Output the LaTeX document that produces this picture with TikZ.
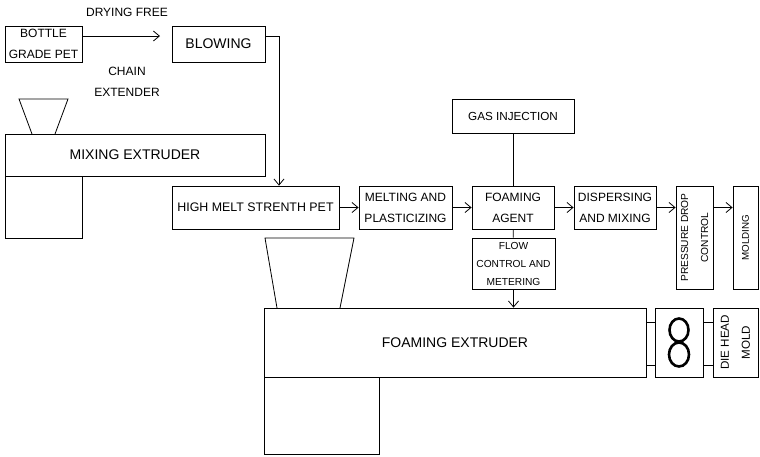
\documentclass[tikz,border=0pt]{standalone}
\usepackage{fontspec}
\setmainfont{Liberation Sans}
\usetikzlibrary{arrows.meta}

\begin{document}
\begin{tikzpicture}[
  x=1pt, y=-1pt, line width=.8pt,
  font=\fontsize{12}{21}\selectfont, >={Straight Barb[length=6pt,width=10pt]},
  bx/.style={draw, align=center, inner sep=0pt},
  big/.style={font=\fontsize{14}{21}\selectfont},
  sml/.style={font=\fontsize{10.2}{18}\selectfont},
  lbl/.style={align=center, inner sep=0pt},
  arr/.style={->},
  scr/.style={line width=2.6pt}
]
\useasboundingbox (0,0) rectangle (760,456);
% ---------------- top row: raw material
\node[bx, minimum width=77pt, minimum height=36pt] (bot) at (43.5,44) {BOTTLE\\GRADE PET};
\node[bx, big, minimum width=93pt, minimum height=36pt] (blow) at (218.5,44) {BLOWING};
\node[lbl] (dry) at (127,12) {DRYING FREE};
\node[lbl] (chain) at (127,81.5) {CHAIN\\EXTENDER};
\coordinate (dryend) at (160,36);
% ---------------- mixing extruder
\node[bx, big, minimum width=260pt, minimum height=42pt] (mix) at (135,155) {MIXING EXTRUDER};
\node[bx, minimum width=77pt, minimum height=62pt] (mixbase) at (43.5,207) {};
\draw (32,134) -- (19,99) -- (68,99) -- (55,134);
% ---------------- main process row
\node[bx, font=\fontsize{12.4}{21}\selectfont, minimum width=167pt, minimum height=43pt] (hms) at (255.5,207.5) {HIGH MELT STRENTH PET};
\node[bx, minimum width=93pt, minimum height=43pt] (melt) at (405.5,207.5) {MELTING AND\\PLASTICIZING};
\node[bx, minimum width=82pt, minimum height=43pt] (foam) at (513,207.5) {FOAMING\\AGENT};
\node[bx, minimum width=82pt, minimum height=43pt] (disp) at (615,207.5) {DISPERSING\\AND MIXING};
\node[bx, sml, font=\fontsize{10.2}{20}\selectfont, rotate=90, minimum width=103pt, minimum height=37pt] (pdc) at (694.5,237.5) {PRESSURE DROP\\CONTROL};
\node[bx, font=\fontsize{9.8}{20}\selectfont, rotate=90, minimum width=103pt, minimum height=25pt] (mold) at (745.5,237.5) {MOLDING};
% ---------------- gas feed
\node[bx, font=\fontsize{11.7}{21}\selectfont, minimum width=122pt, minimum height=34pt] (gas) at (513,116) {GAS INJECTION};
\node[bx, sml, minimum width=83pt, minimum height=51pt] (flow) at (513.5,263.5) {FLOW\\CONTROL AND\\METERING};
% ---------------- foaming extruder
\node[bx, big, minimum width=382pt, minimum height=69pt] (fex) at (455,342.5) {FOAMING EXTRUDER};
\node[bx, minimum width=115pt, minimum height=77pt] (fexbase) at (321.5,415.5) {};
\draw (277,308) -- (265,238) -- (354,238) -- (340,308);
\node[bx, minimum width=48pt, minimum height=69pt] (screw) at (679,342.5) {};
\draw[scr] ([yshift=12.5pt]screw.center) ellipse [x radius=9.5pt, y radius=11.5pt];
\draw[scr] ([yshift=-12pt]screw.center) ellipse [x radius=10pt, y radius=12pt];
\node[bx, font=\fontsize{11.6}{21}\selectfont, rotate=90, minimum width=69pt, minimum height=45pt] (die) at (735.5,342.5) {DIE HEAD\\MOLD};
% ---------------- edges
\draw[arr] ([yshift=8pt]bot.east) -- (dryend);
\draw[arr] ([yshift=8pt]blow.east) -| ([xshift=23.5pt]hms.north);
\draw[arr] (hms) -- (melt);
\draw[arr] (melt) -- (foam);
\draw[arr] (foam) -- (disp);
\draw[arr] (disp) -- (disp -| pdc.north);
\draw[arr] (pdc.south |- disp) -- (mold.north |- disp);
\draw (gas) -- (foam);
\draw (foam) -- (flow);
\draw[arr] (flow) -- (flow |- fex.north);
\draw ([yshift=20.5pt]fex.east) -- ([yshift=20.5pt]fex.east -| screw.west);
\draw ([yshift=-22.5pt]fex.east) -- ([yshift=-22.5pt]fex.east -| screw.west);
\draw ([yshift=20.5pt]screw.east) -- ([yshift=20.5pt]screw.east -| die.north);
\draw ([yshift=-22.5pt]screw.east) -- ([yshift=-22.5pt]screw.east -| die.north);
\end{tikzpicture}
\end{document}
